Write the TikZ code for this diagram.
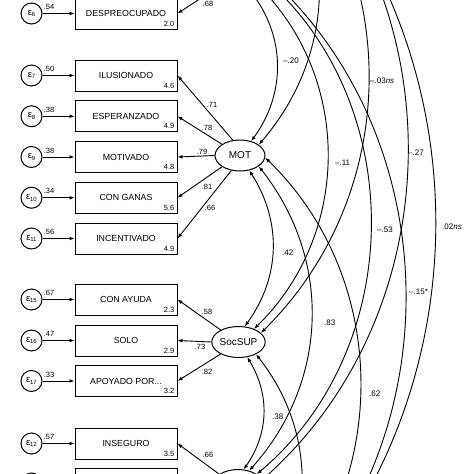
\documentclass[tikz,border=0pt]{standalone}
\usepackage{fontspec}
\setmainfont{Liberation Sans}
\usetikzlibrary{shapes.geometric,arrows.meta}
\begin{document}
\begin{tikzpicture}[x=1pt,y=1pt,
  every node/.style={inner sep=0pt},
  obs/.style={draw, line width=1pt, minimum width=102pt, minimum height=31pt, font=\fontsize{8.8}{10}\selectfont},
  lat/.style={draw, ellipse, line width=1pt, minimum width=50pt, minimum height=31pt, font=\fontsize{10}{12}\selectfont},
  err/.style={draw, circle, line width=1pt, minimum size=21pt, font=\fontsize{9.5}{10}\selectfont},
  num/.style={font=\fontsize{7.5}{9}\selectfont},
  cnum/.style={font=\fontsize{8}{9}\selectfont, anchor=west},
  mean/.style={font=\fontsize{7.5}{9}\selectfont, anchor=south east},
  arr/.style={line width=0.9pt, -{Latex[length=5pt,width=3.8pt]}},
  cov/.style={line width=0.9pt, {Latex[length=5pt,width=3.8pt]}-{Latex[length=5pt,width=3.8pt]}},
]
\useasboundingbox (0,-474) rectangle (474,0);

% latent variables
\node[lat] (lat1) at (240,180) {};
\node[lat] (lat2) at (240,26) {};
\node[lat] (MOT) at (240,-155.5) {MOT};
\node[lat] (SOC) at (238.5,-342) {SocSUP};
\node[lat] (lat5) at (238,-485) {};
\node[lat] (lat6) at (238,-630) {};

% observed variables
\node[obs] (b6)  at (126,-13.5)  {DESPREOCUPADO};
\node[obs] (b7)  at (126,-75.5)  {ILUSIONADO};
\node[obs] (b8)  at (126,-116.25) {ESPERANZADO};
\node[obs] (b9)  at (126,-157)   {MOTIVADO};
\node[obs] (b10) at (126,-197.75) {CON GANAS};
\node[obs] (b11) at (126,-238.5) {INCENTIVADO};
\node[obs] (b15) at (126,-299.5) {CON AYUDA};
\node[obs] (b16) at (126,-340.5) {SOLO};
\node[obs] (b17) at (126,-381)   {APOYADO POR...};
\node[obs] (b12) at (126,-443.5) {INSEGURO};
\node[obs] (b13) at (126,-484.25) {};

% means
\node[mean] (m6)  at ([shift={(-3,3)}]b6.south east)  {2.0};
\node[mean] (m7)  at ([shift={(-3,3)}]b7.south east)  {4.6};
\node[mean] (m8)  at ([shift={(-3,3)}]b8.south east)  {4.9};
\node[mean] (m9)  at ([shift={(-3,3)}]b9.south east)  {4.8};
\node[mean] (m10) at ([shift={(-3,3)}]b10.south east) {5.6};
\node[mean] (m11) at ([shift={(-3,3)}]b11.south east) {4.9};
\node[mean] (m15) at ([shift={(-3,3)}]b15.south east) {2.3};
\node[mean] (m16) at ([shift={(-3,3)}]b16.south east) {2.9};
\node[mean] (m17) at ([shift={(-3,3)}]b17.south east) {3.2};
\node[mean] (m12) at ([shift={(-3,3)}]b12.south east) {3.5};

% error terms
\newcommand{\epsl}[1]{ε\kern-0.3pt{\fontsize{6}{6}\selectfont\raisebox{-1.8pt}{#1}}}
\node[err] (e6)  at (31.5,-13.5)   {\epsl{6}};
\node[err] (e7)  at (31.5,-75.5)   {\epsl{7}};
\node[err] (e8)  at (31.5,-116.25) {\epsl{8}};
\node[err] (e9)  at (31.5,-157)    {\epsl{9}};
\node[err] (e10) at (31.5,-197.75) {\epsl{10}};
\node[err] (e11) at (31.5,-238.5)  {\epsl{11}};
\node[err] (e15) at (31.5,-299.5)  {\epsl{15}};
\node[err] (e16) at (31.5,-340.5)  {\epsl{16}};
\node[err] (e17) at (31.5,-381)    {\epsl{17}};
\node[err] (e12) at (31.5,-443.5)  {\epsl{12}};
\node[err] (e13) at (31.5,-483.5)  {};

\foreach \i in {6,7,8,9,10,11,15,16,17,12,13} {\draw[arr] (e\i) -- (b\i);}

% error labels
\node[num] (v6)  at (49,-7)     {.54};
\node[num] (v7)  at (49,-69)    {.50};
\node[num] (v8)  at (49,-109.75) {.38};
\node[num] (v9)  at (49,-150.5)  {.38};
\node[num] (v10) at (49,-191.25) {.34};
\node[num] (v11) at (49,-232)    {.56};
\node[num] (v15) at (49,-293)    {.67};
\node[num] (v16) at (49,-334)    {.47};
\node[num] (v17) at (49,-374.5)  {.33};
\node[num] (v12) at (49,-437)    {.57};

% loadings
\draw[arr] (lat2.210) -- (b6.east);
\draw[arr] (MOT.115) -- (b7.east);
\draw[arr] (MOT.148) -- (b8.east);
\draw[arr] (MOT.west) -- (b9.east);
\draw[arr] (MOT.212) -- (b10.east);
\draw[arr] (MOT.240) -- (b11.east);
\draw[arr] (SOC.146) -- (b15.east);
\draw[arr] (SOC.west) -- (b16.east);
\draw[arr] (SOC.214) -- (b17.east);
\draw[arr] (lat5.150) -- (b12.east);
\draw[arr] (lat5.west) -- (b13.east);

\node[num] (l6)  at (208,-4)   {.68};
\node[num] (l7)  at (212,-105) {.71};
\node[num] (l8)  at (207,-128) {.78};
\node[num] (l9)  at (202,-152) {.79};
\node[num] (l10) at (207,-187) {.81};
\node[num] (l11) at (210,-208) {.66};
\node[num] (l15) at (207,-312) {.58};
\node[num] (l16) at (200,-347) {.73};
\node[num] (l17) at (207,-372) {.82};
\node[num] (l12) at (208,-455) {.66};

% covariances
\draw[cov] (lat1.-32) to[bend left=41] (MOT.30);
\draw[cov] (lat1.-10) to[bend left=45] (SOC.22);
\draw[cov] (lat1.-3)  to[bend left=48] (lat5.12);
\draw[cov] (lat1.0)   to[bend left=46] (lat6.5);
\draw[cov] (lat2.-60) to[bend left=37] (MOT.52);
\draw[cov] (lat2.-32) to[bend left=45] (SOC.40);
\draw[cov] (lat2.-10) to[bend left=49] (lat5.30);
\draw[cov] (lat2.0)   to[bend left=48] (lat6.15);
\draw[cov] (MOT.-58)  to[bend left=34] (SOC.68);
\draw[cov] (MOT.-30)  to[bend left=40] (lat5.52);
\draw[cov] (MOT.-5)   to[bend left=47] (lat6.30);
\draw[cov] (SOC.-60)  to[bend left=33] (lat5.70);
\draw[cov] (SOC.-35)  to[bend left=40] (lat6.55);

\node[cnum] (c1)  at (283,-61)  {–.20};
\node[cnum] (c2)  at (335,-163) {–.11};
\node[cnum] (c3)  at (370,-81)  {–.03\textit{ns}};
\node[cnum] (c4)  at (408,-153) {–.27};
\node[cnum] (c5)  at (377,-230) {–.53};
\node[cnum] (c6)  at (442,-227) {.02\textit{ns}};
\node[cnum] (c7)  at (409,-292) {–.15*};
\node[cnum] (c8)  at (282,-253) {.42};
\node[cnum] (c9)  at (324,-323) {.83};
\node[cnum] (c10) at (369,-394) {.62};
\node[cnum] (c11) at (272,-417) {.38};
\end{tikzpicture}
\end{document}
